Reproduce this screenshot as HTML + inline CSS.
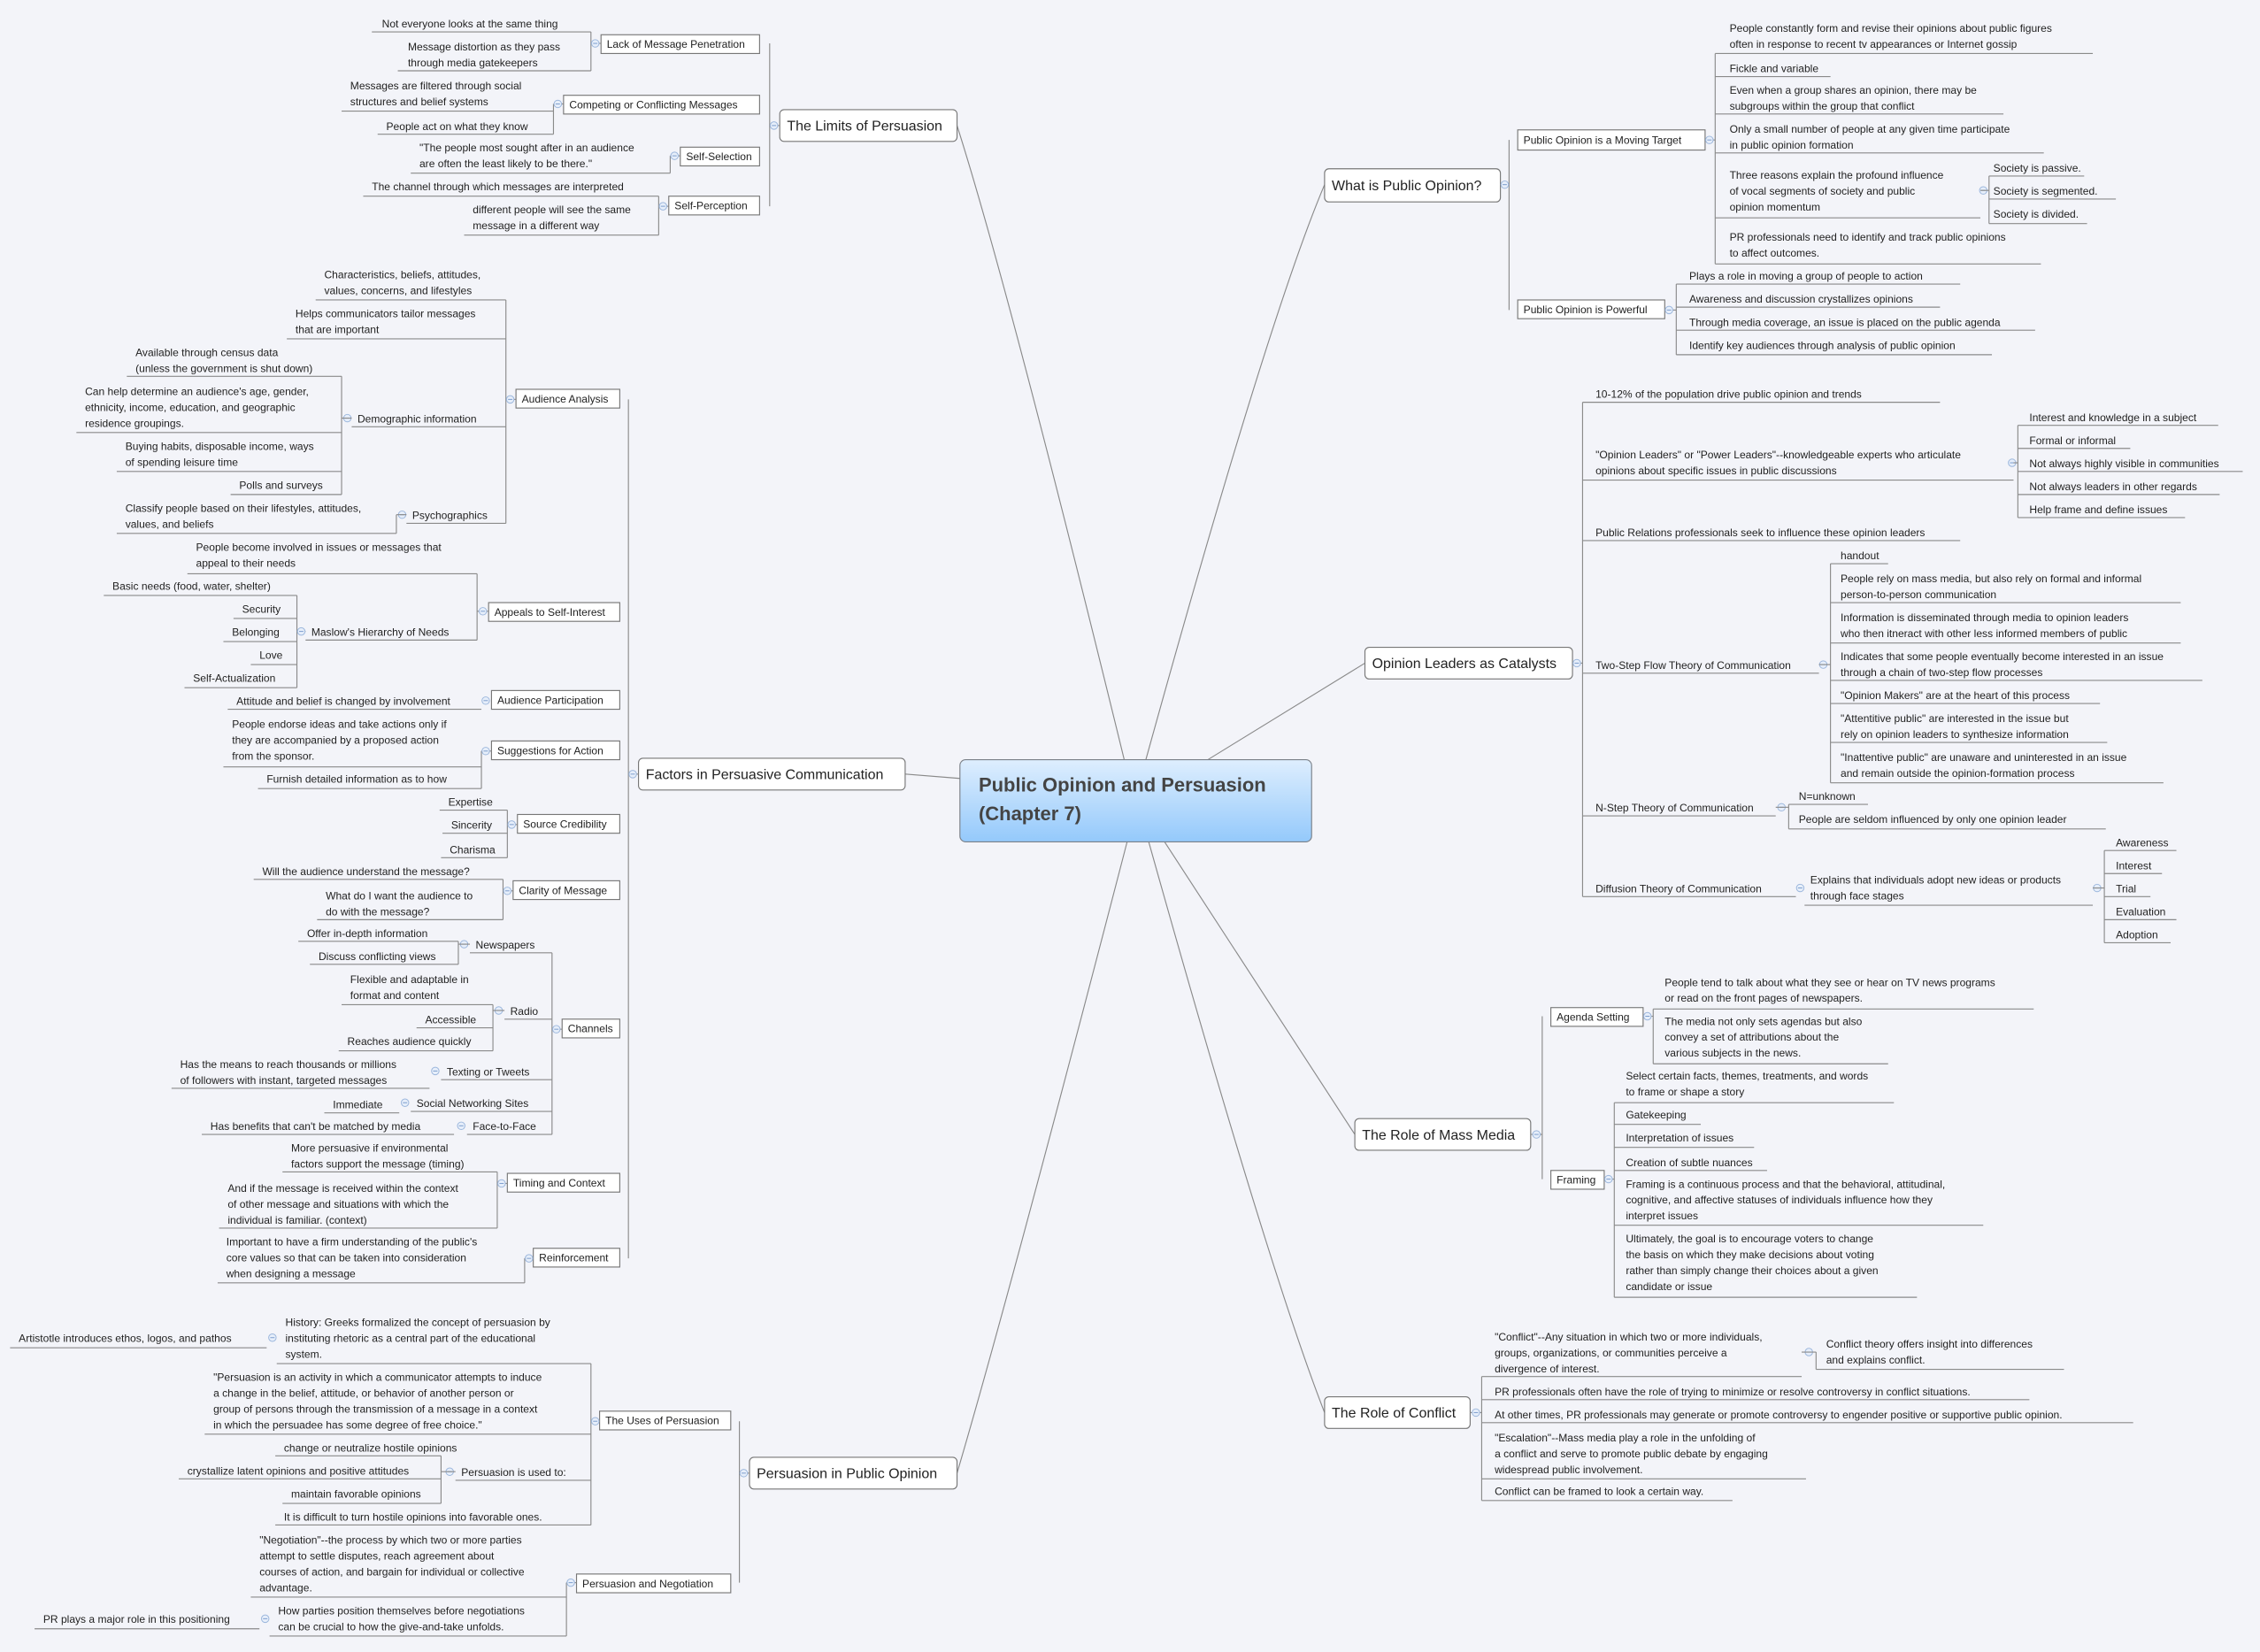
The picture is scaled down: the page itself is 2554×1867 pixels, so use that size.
<!DOCTYPE html>
<html><head><meta charset="utf-8"><style>
html,body{margin:0;padding:0;background:#f3f4f9;}
svg{display:block;}
text{font-family:"Liberation Sans",sans-serif;fill:#222;}
</style></head><body>
<svg id="s" xmlns="http://www.w3.org/2000/svg" width="2554" height="1867" viewBox="0 0 1568 1146">
<defs><linearGradient id="g" x1="0" y1="0" x2="0" y2="1"><stop offset="0" stop-color="#deeefe"/><stop offset="1" stop-color="#94c9fb"/></linearGradient></defs>
<rect width="1568" height="1146" fill="#f3f4f9"/>
<g id="lines" stroke="#8a8a8a" stroke-width="0.7" fill="none">
<path d="M780 527 Q700 200 664 87"/>
<path d="M666 540 L628 537"/>
<path d="M782 584 Q700 900 664 1022"/>
<path d="M795 527 Q880 220 919 128"/>
<path d="M838 527 L947 460"/>
<path d="M808 584 L940 787"/>
<path d="M797 584 Q880 880 919 980"/>
</g>
<rect x="666" y="527" width="244" height="57" rx="4" fill="url(#g)" stroke="#7a8088" stroke-width="0.7"/>
<text x="679" y="549" font-size="13.5" font-weight="bold" fill="#444" style="fill:#444">Public Opinion and Persuasion</text>
<text x="679" y="569" font-size="13.5" font-weight="bold" style="fill:#444">(Chapter 7)</text>
<g id="c"></g>
</svg>
<script>
var c=document.getElementById('c');var h='';
function ln(x1,y1,x2,y2){h+='<line x1="'+x1+'" y1="'+y1+'" x2="'+x2+'" y2="'+y2+'" stroke="#8a8a8a" stroke-width="0.7"/>';}
function esc(s){return s.replace(/&/g,'&amp;').replace(/</g,'&lt;');}
function tx(x,y,lines,fs){fs=fs||7.4;for(var i=0;i<lines.length;i++){h+='<text x="'+x+'" y="'+(y+3+i*11)+'" font-size="'+fs+'">'+esc(lines[i])+'</text>';}}
function leaf(x,y,lines,u1,u2,uy){tx(x,y,lines);ln(u1,uy,u2,uy);}
function box(x1,y1,x2,y2,t,fs,main){fs=fs||7.4;h+='<rect x="'+x1+'" y="'+y1+'" width="'+(x2-x1)+'" height="'+(y2-y1)+'" rx="'+(main?3:0)+'" fill="#fff" stroke="#777" stroke-width="0.7"/>';h+='<text x="'+(x1+(main?5:4))+'" y="'+((y1+y2)/2+fs*0.36)+'" font-size="'+fs+'">'+esc(t)+'</text>';}
function mi(x,y){h+='<circle cx="'+x+'" cy="'+y+'" r="2.6" fill="#e6eefa" stroke="#9bb6dc" stroke-width="0.6"/><line x1="'+(x-1.5)+'" y1="'+y+'" x2="'+(x+1.5)+'" y2="'+y+'" stroke="#7b9ccc" stroke-width="0.6"/>';}
function br(bx,ys,px,py){var a=Math.min.apply(null,ys.concat([py])),b=Math.max.apply(null,ys.concat([py]));ln(bx,a,bx,b);ln(px,py,bx,py);}

/* main topic boxes */
box(541,76,664,98,'The Limits of Persuasion',9.8,1);
box(443,526,628,548,'Factors in Persuasive Communication',9.8,1);
box(520,1011,664,1033,'Persuasion in Public Opinion',9.8,1);
box(919,117,1041,140,'What is Public Opinion?',9.8,1);
box(947,449,1091,471,'Opinion Leaders as Catalysts',9.8,1);
box(940,776,1062,798,'The Role of Mass Media',9.8,1);
box(919,969,1020,991,'The Role of Conflict',9.8,1);

/* Limits */
br(534,[30,72,108,143],541,87);mi(537,87);
box(417,24,527,37,'Lack of Message Penetration');br(410,[22,49],417,30);mi(413,30);
leaf(265,16,['Not everyone looks at the same thing'],258,410,22);
leaf(283,32,['Message distortion as they pass','through media gatekeepers'],276,410,49);
box(391,66,527,79,'Competing or Conflicting Messages');br(384,[77,93],391,72);mi(387,72);
leaf(243,59,['Messages are filtered through social','structures and belief systems'],237,384,77);
leaf(268,87,['People act on what they know'],262,384,93);
box(472,102,527,115,'Self-Selection');br(465,[120],472,108);mi(468,108);
leaf(291,102,['"The people most sought after in an audience','are often the least likely to be there."'],285,465,120);
box(464,136,527,149,'Self-Perception');br(457,[136,163],464,143);mi(460,143);
leaf(258,129,['The channel through which messages are interpreted'],252,457,136);
leaf(328,145,['different people will see the same','message in a different way'],322,457,163);

/* Factors */
br(436,[277,424,486,521,572,618,714,821,873],443,537);mi(439,537);
box(358,270,430,283,'Audience Analysis');br(351,[208,235,296,363],358,277);mi(354,277);
leaf(225,190,['Characteristics, beliefs, attitudes,','values, concerns, and lifestyles'],219,351,208);
leaf(205,217,['Helps communicators tailor messages','that are important'],199,351,235);
leaf(248,290,['Demographic information'],244,351,296);mi(241,290);br(237,[261,300,327,343],244,290);
leaf(94,244,['Available through census data','(unless the government is shut down)'],88,237,261);
leaf(59,271,["Can help determine an audience's age, gender,",'ethnicity, income, education, and geographic','residence groupings.'],53,237,300);
leaf(87,309,['Buying habits, disposable income, ways','of spending leisure time'],81,237,327);
leaf(166,336,['Polls and surveys'],160,237,343);
leaf(286,357,['Psychographics'],282,351,363);mi(279,357);br(275,[370],282,357);
leaf(87,352,['Classify people based on their lifestyles, attitudes,','values, and beliefs'],81,275,370);
box(339,418,430,431,'Appeals to Self-Interest');br(331,[398,444],339,424);mi(335,424);
leaf(136,379,['People become involved in issues or messages that','appeal to their needs'],130,331,398);
leaf(216,438,["Maslow's Hierarchy of Needs"],212,331,444);br(206,[413,429,445,461,477],212,438);mi(209,438);
leaf(78,406,['Basic needs (food, water, shelter)'],72,206,413);
leaf(168,422,['Security'],162,206,429);
leaf(161,438,['Belonging'],155,206,445);
leaf(180,454,['Love'],174,206,461);
leaf(134,470,['Self-Actualization'],128,206,477);
box(341,479,430,492,'Audience Participation');mi(337,486);
leaf(164,486,['Attitude and belief is changed by involvement'],158,334,492);
box(341,514,430,527,'Suggestions for Action');br(334,[532,547],341,521);mi(337,521);
leaf(161,502,['People endorse ideas and take actions only if','they are accompanied by a proposed action','from the sponsor.'],155,334,532);
leaf(185,540,['Furnish detailed information as to how'],179,334,547);
box(359,565,430,578,'Source Credibility');br(352,[562,578,595],359,572);mi(355,572);
leaf(311,556,['Expertise'],305,352,562);
leaf(313,572,['Sincerity'],307,352,578);
leaf(312,589,['Charisma'],306,352,595);
box(356,611,430,624,'Clarity of Message');br(349,[610,638],356,618);mi(352,618);
leaf(182,604,['Will the audience understand the message?'],176,349,610);
leaf(226,621,['What do I want the audience to','do with the message?'],220,349,638);
box(390,707,430,720,'Channels');br(383,[661,707,749,771,787],390,714);mi(386,714);
leaf(330,655,['Newspapers'],326,383,661);mi(322,655);br(318,[653,669],326,655);
leaf(213,647,['Offer in-depth information'],207,318,653);
leaf(221,663,['Discuss conflicting views'],215,318,669);
leaf(354,701,['Radio'],350,383,707);mi(346,701);br(342,[697,713,729],350,701);
leaf(243,679,['Flexible and adaptable in','format and content'],237,342,697);
leaf(295,707,['Accessible'],289,342,713);
leaf(241,722,['Reaches audience quickly'],235,342,729);
leaf(310,743,['Texting or Tweets'],306,383,749);mi(302,743);
leaf(125,738,['Has the means to reach thousands or millions','of followers with instant, targeted messages'],119,298,755);
leaf(289,765,['Social Networking Sites'],285,383,771);mi(281,765);
leaf(231,766,['Immediate'],225,277,772);
leaf(328,781,['Face-to-Face'],324,383,787);mi(320,781);
leaf(146,781,["Has benefits that can't be matched by media"],140,315,787);
box(352,814,430,827,'Timing and Context');br(345,[813,852],352,821);mi(348,821);
leaf(202,796,['More persuasive if environmental','factors support the message (timing)'],196,345,813);
leaf(158,824,['And if the message is received within the context','of other message and situations with which the','individual is familiar. (context)'],152,345,852);
box(370,866,430,879,'Reinforcement');br(364,[890],370,873);mi(367,873);
leaf(157,861,["Important to have a firm understanding of the public's",'core values so that can be taken into consideration','when designing a message'],151,364,890);

/* Persuasion in Public Opinion */
br(513,[986,1098],520,1022);mi(516,1022);
box(416,979,507,992,'The Uses of Persuasion');br(410,[946,995,1027,1058],416,986);mi(413,986);
leaf(198,917,['History: Greeks formalized the concept of persuasion by','instituting rhetoric as a central part of the educational','system.'],192,410,946);mi(189,928);
leaf(13,928,['Artistotle introduces ethos, logos, and pathos'],7,185,935);
leaf(148,955,['"Persuasion is an activity in which a communicator attempts to induce','a change in the belief, attitude, or behavior of another person or','group of persons through the transmission of a message in a context','in which the persuadee has some degree of free choice."'],142,410,995);
leaf(320,1021,['Persuasion is used to:'],316,410,1027);mi(312,1021);br(306,[1010,1026,1043],316,1021);
leaf(197,1004,['change or neutralize hostile opinions'],191,306,1010);
leaf(130,1020,['crystallize latent opinions and positive attitudes'],124,306,1026);
leaf(202,1036,['maintain favorable opinions'],196,306,1043);
leaf(197,1052,['It is difficult to turn hostile opinions into favorable ones.'],191,410,1058);
box(400,1092,507,1105,'Persuasion and Negotiation');br(393,[1108,1135],400,1098);mi(396,1098);
leaf(180,1068,['"Negotiation"--the process by which two or more parties','attempt to settle disputes, reach agreement about','courses of action, and bargain for individual or collective','advantage.'],174,393,1108);
leaf(193,1117,['How parties position themselves before negotiations','can be crucial to how the give-and-take unfolds.'],187,393,1135);mi(184,1123);
leaf(30,1123,['PR plays a major role in this positioning'],24,180,1130);

/* What is Public Opinion */
br(1047,[97,215],1041,128);mi(1044,128);
box(1053,90,1183,104,'Public Opinion is a Moving Target');br(1190,[37,53,79,106,151,183],1183,97);mi(1186,97);
leaf(1200,19,['People constantly form and revise their opinions about public figures','often in response to recent tv appearances or Internet gossip'],1190,1452,37);
leaf(1200,47,['Fickle and variable'],1190,1270,53);
leaf(1200,62,['Even when a group shares an opinion, there may be','subgroups within the group that conflict'],1190,1390,79);
leaf(1200,89,['Only a small number of people at any given time participate','in public opinion formation'],1190,1418,106);
leaf(1200,121,['Three reasons explain the profound influence','of vocal segments of society and public','opinion momentum'],1190,1374,151);mi(1376,132);br(1380,[122,138,155],1374,132);
leaf(1383,116,['Society is passive.'],1380,1446,122);
leaf(1383,132,['Society is segmented.'],1380,1468,138);
leaf(1383,148,['Society is divided.'],1380,1448,155);
leaf(1200,164,['PR professionals need to identify and track public opinions','to affect outcomes.'],1190,1416,183);
box(1053,208,1155,221,'Public Opinion is Powerful');br(1163,[197,213,229,246],1155,215);mi(1158,215);
leaf(1172,191,['Plays a role in moving a group of people to action'],1163,1360,197);
leaf(1172,207,['Awareness and discussion crystallizes opinions'],1163,1346,213);
leaf(1172,223,['Through media coverage, an issue is placed on the public agenda'],1163,1412,229);
leaf(1172,239,['Identify key audiences through analysis of public opinion'],1163,1382,246);

/* Opinion Leaders */
br(1098,[279,622],1091,460);mi(1094,460);
leaf(1107,273,['10-12% of the population drive public opinion and trends'],1098,1346,279);
leaf(1107,315,['"Opinion Leaders" or "Power Leaders"--knowledgeable experts who articulate','opinions about specific issues in public discussions'],1098,1397,333);mi(1396,321);br(1400,[295,311,327,343,359],1397,321);
leaf(1408,289,['Interest and knowledge in a subject'],1400,1539,295);
leaf(1408,305,['Formal or informal'],1400,1478,311);
leaf(1408,321,['Not always highly visible in communities'],1400,1556,327);
leaf(1408,337,['Not always leaders in other regards'],1400,1540,343);
leaf(1408,353,['Help frame and define issues'],1400,1516,359);
leaf(1107,369,['Public Relations professionals seek to influence these opinion leaders'],1098,1360,375);
leaf(1107,461,['Two-Step Flow Theory of Communication'],1098,1262,467);mi(1265,461);br(1270,[391,418,446,472,488,515,543],1262,461);
leaf(1277,385,['handout'],1270,1310,391);
leaf(1277,401,['People rely on mass media, but also rely on formal and informal','person-to-person communication'],1270,1513,418);
leaf(1277,428,['Information is disseminated through media to opinion leaders','who then itneract with other less informed members of public'],1270,1513,446);
leaf(1277,455,['Indicates that some people eventually become interested in an issue','through a chain of two-step flow processes'],1270,1528,472);
leaf(1277,482,['"Opinion Makers" are at the heart of this process'],1270,1457,488);
leaf(1277,498,['"Attentitive public" are interested in the issue but','rely on opinion leaders to synthesize information'],1270,1462,515);
leaf(1277,525,['"Inattentive public" are unaware and uninterested in an issue','and remain outside the opinion-formation process'],1270,1501,543);
leaf(1107,560,['N-Step Theory of Communication'],1098,1232,566);mi(1236,560);br(1241,[558,575],1232,560);
leaf(1248,552,['N=unknown'],1241,1296,558);
leaf(1248,568,['People are seldom influenced by only one opinion leader'],1241,1461,575);
leaf(1107,616,['Diffusion Theory of Communication'],1098,1246,622);mi(1249,616);
leaf(1256,610,['Explains that individuals adopt new ideas or products','through face stages'],1252,1452,628);mi(1455,616);br(1460,[590,606,622,638,654],1452,616);
leaf(1468,584,['Awareness'],1460,1510,590);
leaf(1468,600,['Interest'],1460,1500,606);
leaf(1468,616,['Trial'],1460,1492,622);
leaf(1468,632,['Evaluation'],1460,1510,638);
leaf(1468,648,['Adoption'],1460,1506,654);

/* Mass Media */
br(1070,[705,818],1062,787);mi(1066,787);
box(1076,699,1140,712,'Agenda Setting');br(1147,[700,738],1140,705);mi(1143,705);
leaf(1155,681,['People tend to talk about what they see or hear on TV news programs',' or read on the front pages of newspapers.'],1147,1411,700);
leaf(1155,708,['The media not only sets agendas but also','convey a set of attributions about the','various subjects in the news.'],1147,1310,738);
box(1076,812,1113,825,'Framing');br(1120,[765,780,796,812,850,900],1113,818);mi(1116,818);
leaf(1128,746,['Select certain facts, themes, treatments, and words',' to frame or shape a story'],1120,1314,765);
leaf(1128,773,['Gatekeeping'],1120,1180,780);
leaf(1128,789,['Interpretation of issues'],1120,1217,796);
leaf(1128,806,['Creation of subtle nuances'],1120,1226,812);
leaf(1128,821,['Framing is a continuous process and that the behavioral, attitudinal,','cognitive, and affective statuses of individuals influence how they','interpret issues'],1120,1376,850);
leaf(1128,859,['Ultimately, the goal is to encourage voters to change','the basis on which they make decisions about voting','rather than simply change their choices about a given','candidate or issue'],1120,1330,900);

/* Conflict */
br(1028,[955,1041],1020,980);mi(1024,980);
leaf(1037,927,['"Conflict"--Any situation in which two or more individuals,',' groups, organizations, or communities perceive a',' divergence of interest.'],1028,1250,955);mi(1255,938);br(1260,[950],1250,938);
leaf(1267,932,['Conflict theory offers insight into differences','and explains conflict.'],1260,1432,950);
leaf(1037,965,['PR professionals often have the role of trying to minimize or resolve controversy in conflict situations.'],1028,1408,971);
leaf(1037,981,['At other times, PR professionals may generate or promote controversy to engender positive or supportive public opinion.'],1028,1480,987);
leaf(1037,997,['"Escalation"--Mass media play a role in the unfolding of','a conflict and serve to promote public debate by engaging','widespread public involvement.'],1028,1253,1026);
leaf(1037,1034,['Conflict can be framed to look a certain way.'],1028,1202,1041);
c.innerHTML=h;
</script>
</body></html>
